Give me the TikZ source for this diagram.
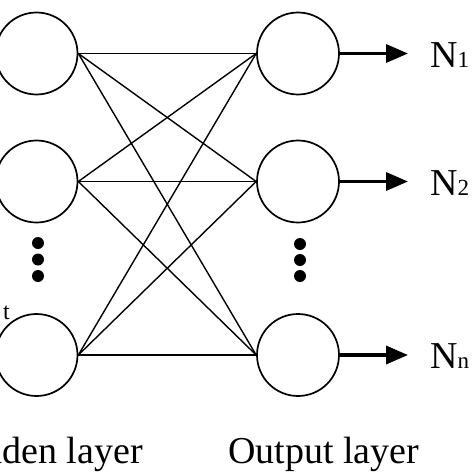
\documentclass[tikz,border=0pt]{standalone}
\usepackage{fontspec}
\setmainfont{Liberation Serif}
\usetikzlibrary{arrows.meta}

\begin{document}
\begin{tikzpicture}[x=1pt,y=1pt,yscale=-1,xscale=1,
  neuron/.style={draw, circle, minimum size=82pt, inner sep=0pt, line width=1.7pt},
  bigdot/.style={fill, circle, minimum size=12pt, inner sep=0pt},
  link/.style={line width=1.4pt},
  outarrow/.style={line width=3.5pt, -{Triangle[length=22pt,width=18pt]}},
  lbl/.style={inner sep=0pt, font=\fontsize{38}{42}\selectfont}
]
\useasboundingbox (0,0) rectangle (474,474);
\clip (0,0) rectangle (474,474);

% hidden layer
\node[neuron] (h1) at (36.5,53.5) {};
\node[neuron] (h2) at (36.5,181.5) {};
\node[neuron] (h3) at (36.5,355) {};
\node[bigdot] (hd1) at (38,243) {};
\node[bigdot] (hd2) at (38,259.5) {};
\node[bigdot] (hd3) at (38,276) {};

% output layer
\node[neuron] (o1) at (298,53.5) {};
\node[neuron] (o2) at (298,181.5) {};
\node[neuron] (o3) at (298,355) {};
\node[bigdot] (od1) at (300,244) {};
\node[bigdot] (od2) at (300,260) {};
\node[bigdot] (od3) at (300,276) {};

% links
\foreach \i in {1,2,3}
  \foreach \j in {1,2,3}
    \draw[link] (h\i.east) -- (o\j.west);

% outputs
\coordinate (e1) at (408,53.5);
\coordinate (e2) at (408,181.5);
\coordinate (e3) at (408,355);
\draw[outarrow] (o1.east) -- (e1);
\draw[outarrow] (o2.east) -- (e2);
\draw[outarrow] (o3.east) -- (e3);

\node[lbl, anchor=base west] (n1) at (430,67) {N{\fontsize{23}{26}\selectfont 1}};
\node[lbl, anchor=base west] (n2) at (430,195) {N{\fontsize{23}{26}\selectfont 2}};
\node[lbl, anchor=base west] (n3) at (430,368.5) {N{\fontsize{23}{26}\selectfont n}};

\node[inner sep=0pt, anchor=base west, font=\fontsize{24}{26}\selectfont] (ht) at (3,319) {t};

\node[lbl, anchor=base east] (hidden) at (143,463) {Hidden layer};
\node[lbl, anchor=base west] (output) at (228,463) {Output layer};

\end{tikzpicture}
\end{document}
